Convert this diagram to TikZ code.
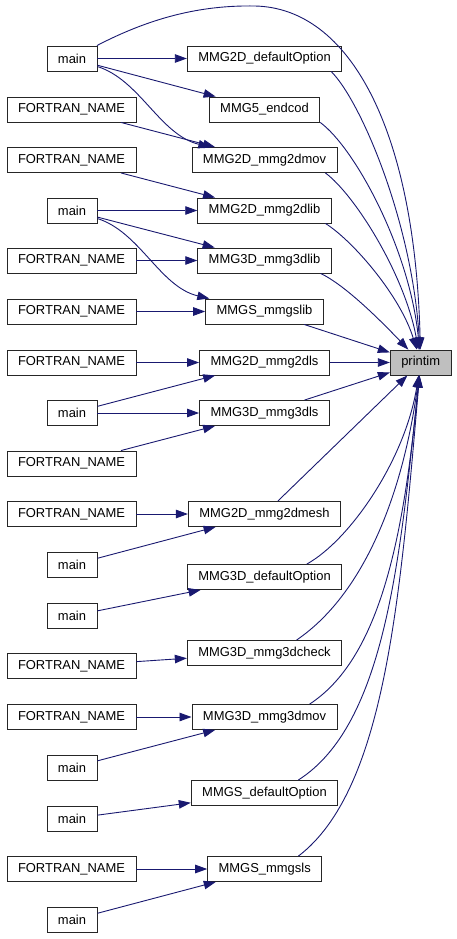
\documentclass[tikz,border=0pt]{standalone}
\usepackage{fontspec}
\setmainfont{Liberation Sans}
\usetikzlibrary{arrows.meta}
\definecolor{edgeblue}{RGB}{25,25,112}

\begin{document}
\begin{tikzpicture}[x=1bp,y=-1bp,font=\fontsize{13}{15}\selectfont,
    func/.style={rectangle, draw=black!85, line width=0.9bp, minimum height=25bp, inner xsep=11bp, inner ysep=0pt},
    hit/.style={func, fill=black!25},
    call/.style={draw=edgeblue, line width=0.9bp, -{Triangle[length=12bp,width=8.5bp]}}]

      \useasboundingbox (0,0) rectangle (457,939);
   %   \draw[help lines] (0,0) grid[step=50] (457,939);

      % callees of the callers, all of them call printim
      \node [hit] (printim) at (420.7, 362.5) {printim};

      \node [func] (defopt2d) at (264.5, 58.5) {MMG2D\_defaultOption};
      \node [func] (endcod) at (264.5, 109.5) {MMG5\_endcod};
      \node [func] (mov2d) at (264.5, 160) {MMG2D\_mmg2dmov};
      \node [func] (lib2d) at (264.5, 210.5) {MMG2D\_mmg2dlib};
      \node [func] (lib3d) at (264.5, 260.5) {MMG3D\_mmg3dlib};
      \node [func] (libs) at (264.5, 311.5) {MMGS\_mmgslib};
      \node [func] (ls2d) at (264.5, 362.5) {MMG2D\_mmg2dls};
      \node [func] (ls3d) at (264.5, 413) {MMG3D\_mmg3dls};
      \node [func] (mesh2d) at (264.5, 514) {MMG2D\_mmg2dmesh};
      \node [func] (defopt3d) at (264.5, 577) {MMG3D\_defaultOption};
      \node [func] (check3d) at (264.5, 653) {MMG3D\_mmg3dcheck};
      \node [func] (mov3d) at (264.5, 717) {MMG3D\_mmg3dmov};
      \node [func] (defopts) at (264.5, 793) {MMGS\_defaultOption};
      \node [func] (lss) at (264.7, 869) {MMGS\_mmgsls};

      % callers
      \node [func] (main_a) at (72, 58.5) {main};
      \node [func] (fort_a) at (71.5, 109.5) {FORTRAN\_NAME};
      \node [func] (fort_b) at (71.5, 160) {FORTRAN\_NAME};
      \node [func] (main_b) at (72, 210.5) {main};
      \node [func] (fort_c) at (71.5, 260.5) {FORTRAN\_NAME};
      \node [func] (fort_d) at (71.5, 311.5) {FORTRAN\_NAME};
      \node [func] (fort_e) at (71.5, 362.5) {FORTRAN\_NAME};
      \node [func] (main_c) at (72, 413) {main};
      \node [func] (fort_f) at (71.5, 463.5) {FORTRAN\_NAME};
      \node [func] (fort_g) at (71.5, 514) {FORTRAN\_NAME};
      \node [func] (main_d) at (72, 565) {main};
      \node [func] (main_e) at (72, 616) {main};
      \node [func] (fort_h) at (71.5, 666) {FORTRAN\_NAME};
      \node [func] (fort_i) at (71.5, 717) {FORTRAN\_NAME};
      \node [func] (main_f) at (72, 767.5) {main};
      \node [func] (main_g) at (72, 818.5) {main};
      \node [func] (fort_j) at (71.5, 869) {FORTRAN\_NAME};
      \node [func] (main_h) at (72, 920) {main};

      \coordinate (arc_top) at (255, 6);

      % caller -> callee
      \draw [call] (main_a) -- (defopt2d);
      \draw [call] (main_a) -- (endcod);
      \draw [call] (main_a) .. controls (140, 80) and (160, 135) .. (mov2d);
      \draw [call] (fort_a) -- (mov2d);
      \draw [call] (fort_b) -- (lib2d);
      \draw [call] (main_b) -- (lib2d);
      \draw [call] (main_b) -- (lib3d);
      \draw [call] (main_b) .. controls (140, 232) and (160, 287) .. (libs);
      \draw [call] (fort_c) -- (lib3d);
      \draw [call] (fort_d) -- (libs);
      \draw [call] (fort_e) -- (ls2d);
      \draw [call] (main_c) -- (ls2d);
      \draw [call] (main_c) -- (ls3d);
      \draw [call] (fort_f) -- (ls3d);
      \draw [call] (fort_g) -- (mesh2d);
      \draw [call] (main_d) -- (mesh2d);
      \draw [call] (main_e) -- (defopt3d);
      \draw [call] (fort_h) -- (check3d);
      \draw [call] (fort_i) -- (mov3d);
      \draw [call] (main_f) -- (mov3d);
      \draw [call] (main_g) -- (defopts);
      \draw [call] (fort_j) -- (lss);
      \draw [call] (main_h) -- (lss);

      % callee -> printim
      \draw [call] (main_a) .. controls (150, 18) and (200, 5) .. (arc_top)
                   .. controls (350, 8) and (415, 130) .. (printim);
      \draw [call] (defopt2d.-11.5) .. controls (360, 100) and (412, 220) .. (printim);
      \draw [call] (endcod.south east) .. controls (355, 148) and (410, 250) .. (printim);
      \draw [call] (mov2d.-12.1) .. controls (355, 195) and (405, 275) .. (printim);
      \draw [call] (lib2d.-12.3) .. controls (352, 240) and (400, 295) .. (printim);
      \draw [call] (lib3d.-13.6) .. controls (345, 285) and (380, 320) .. (printim);
      \draw [call] (libs) -- (printim);
      \draw [call] (ls2d) -- (printim);
      \draw [call] (ls3d) -- (printim);
      \draw [call] (mesh2d) -- (printim);
      \draw [call] (defopt3d.17.2) .. controls (350, 540) and (405, 460) .. (printim);
      \draw [call] (check3d.22.3) .. controls (370, 590) and (405, 480) .. (printim);
      \draw [call] (mov3d.16.4) .. controls (385, 655) and (405, 520) .. (printim);
      \draw [call] (defopts.21.2) .. controls (385, 725) and (400, 560) .. (printim);
      \draw [call] (lss.21.3) .. controls (385, 790) and (400, 600) .. (printim);

    \end{tikzpicture}
\end{document}
